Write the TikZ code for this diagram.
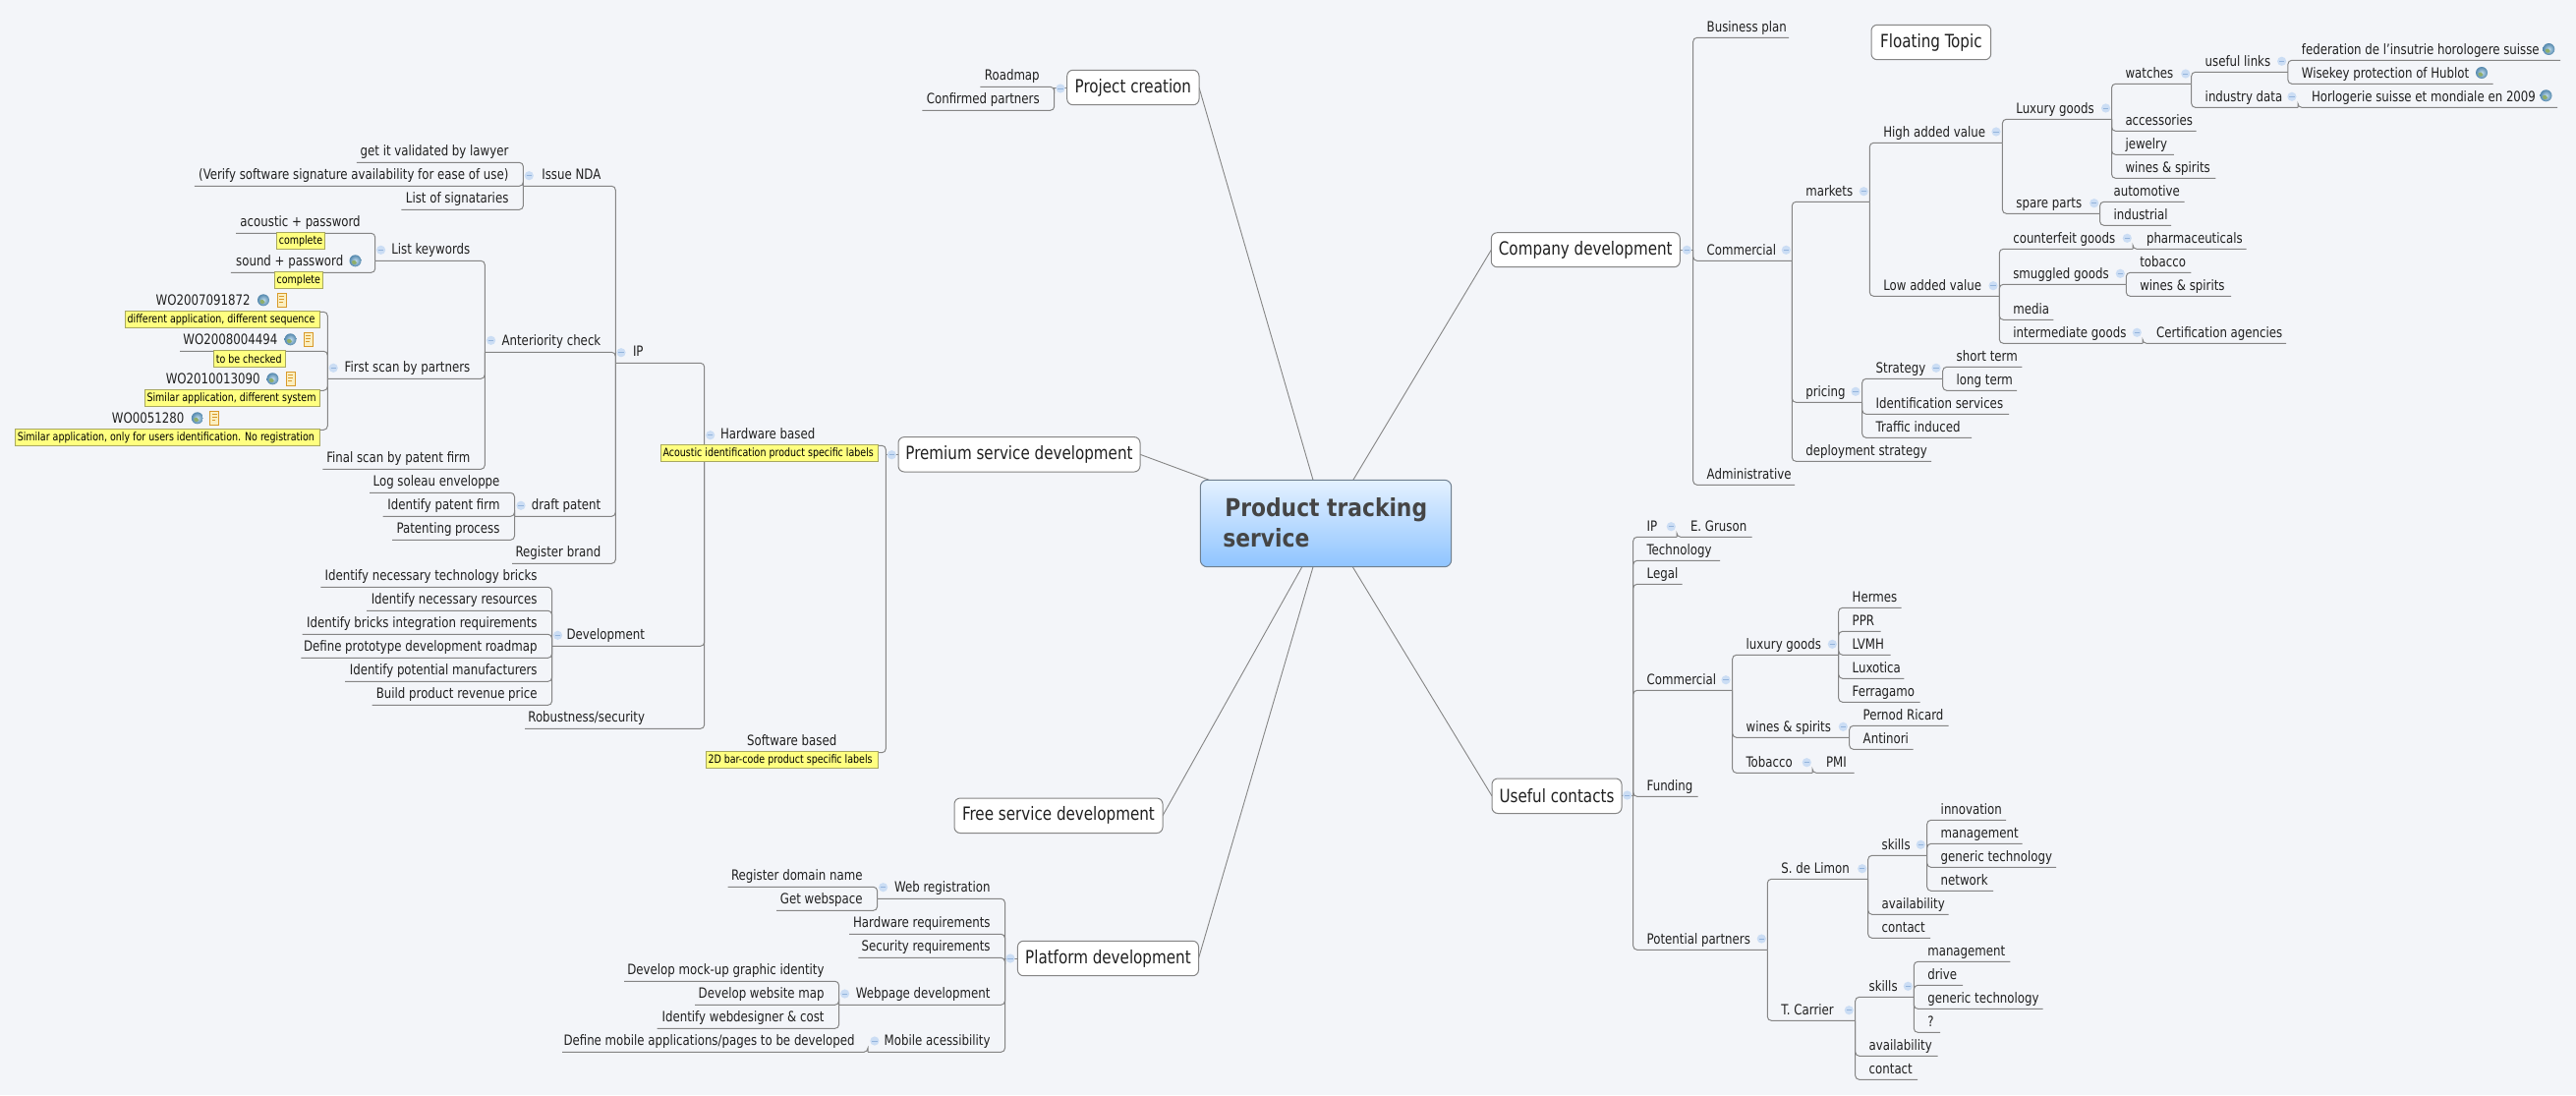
\documentclass[tikz,border=0pt]{standalone}
\usepackage{fontspec}
\setmainfont[FakeStretch=0.91,BoldFeatures={FakeStretch=0.97}]{DejaVu Sans Condensed}
\pgfdeclarelayer{bgl}\pgfdeclarelayer{conl}
\pgfsetlayers{bgl,conl,main}
\definecolor{bgc}{HTML}{F3F5F9}
\definecolor{linec}{HTML}{858585}
\definecolor{txtc}{HTML}{202020}
\definecolor{markc}{HTML}{CBDDF4}
\definecolor{minc}{HTML}{94B4DC}
\definecolor{yelc}{HTML}{FFFF80}
\definecolor{ctop}{HTML}{E4F1FF}
\definecolor{cbot}{HTML}{8FC4FF}
\definecolor{cedge}{HTML}{6F8090}
\definecolor{ctext}{HTML}{454545}
\definecolor{globei}{HTML}{C4DFF0}
\definecolor{globec}{HTML}{5488AD}
\definecolor{globeg}{HTML}{8FAE6A}
\definecolor{notef}{HTML}{FBEFC0}
\definecolor{notel}{HTML}{D99A2B}
\definecolor{yeledge}{HTML}{A8A860}
\tikzset{
 tp/.style={inner sep=0pt,outer sep=0pt,text height=13pt,text depth=7pt,text=txtc,font=\fontsize{14.4}{17}\selectfont},
 conn/.style={draw=linec,line width=1pt,rounded corners=4pt},
 spoke/.style={draw=linec,line width=0.9pt},
 mainbox/.style={draw=linec,line width=1pt,fill=white,rounded corners=6pt,inner sep=0pt,outer sep=0pt,text=txtc,font=\fontsize{18.5}{22}\selectfont},
 yel/.style={draw=yeledge,line width=0.8pt,fill=yelc,inner sep=0pt,outer sep=0pt,text=black,font=\fontsize{11.6}{14}\selectfont}
}
\newcommand{\RNx}[6]{\pgfmathsetmacro\mywidth{#4-#3}\node[tp,anchor=south west] (#2) at (#3,#5) {\makebox[\mywidth pt][l]{\hspace*{#1pt}\raisebox{-0.7pt}{#6}}};}
\newcommand{\LNx}[6]{\pgfmathsetmacro\mywidth{#4-#3}\node[tp,anchor=south west] (#2) at (#3,#5) {\makebox[\mywidth pt][r]{#6\hspace*{#1pt}}};}
\newcommand{\RN}[1][14]{\RNx{#1}}
\newcommand{\LN}[1][15]{\LNx{#1}}
\newcommand{\RC}[2]{\begin{pgfonlayer}{conl}\draw[conn] (#2.south east) -- (#2.south west) -- (#2.south west |- #1.south);\end{pgfonlayer}}
\newcommand{\LC}[2]{\begin{pgfonlayer}{conl}\draw[conn] (#2.south west) -- (#2.south east) -- (#2.south east |- #1.south);\end{pgfonlayer}}
\newcommand{\RM}[2]{\begin{pgfonlayer}{conl}\draw[conn] (#2.south east) -- (#2.south west) -- (#2.south west |- #1.east);\draw[conn] (#1.east) -- (#2.south west |- #1.east);\end{pgfonlayer}}
\newcommand{\LM}[2]{\begin{pgfonlayer}{conl}\draw[conn] (#2.south west) -- (#2.south east) -- (#2.south east |- #1.west);\draw[conn] (#1.west) -- (#2.south east |- #1.west);\end{pgfonlayer}}
\newcommand{\MN}[6]{\pgfmathsetmacro\cx{(#2+#4)/2}\pgfmathsetmacro\cy{(#3+#5)/2}\pgfmathsetmacro\mw{#4-#2}\pgfmathsetmacro\mh{#5-#3}\node[mainbox,minimum width=\mw pt,minimum height=\mh pt] (#1) at (\cx,\cy) {#6};}
\newcommand{\YN}[6]{\pgfmathsetmacro\cx{(#2+#4)/2}\pgfmathsetmacro\cy{(#3+#5)/2}\pgfmathsetmacro\mw{#4-#2}\pgfmathsetmacro\mh{#5-#3}\node[yel,minimum width=\mw pt,minimum height=\mh pt] (#1) at (\cx,\cy) {\makebox[\mw pt][l]{\hspace*{2.2pt}#6}};}
\newcommand{\Mk}[2]{\fill[markc] (#1,#2) circle (4.6pt);\draw[minc,line width=0.9pt] (#1-2.6,#2) -- (#1+2.6,#2);}
\newcommand{\Gl}[2]{\shade[inner color=globei,outer color=globec] (#1,#2) circle (6pt);\fill[globeg] (#1-3.5,#2+0.5) .. controls (#1-1,#2-1.5) and (#1+1,#2) .. (#1+1.5,#2+2) .. controls (#1,#2+5) and (#1-4,#2+4) .. cycle;}
\newcommand{\Nt}[2]{\draw[draw=notel,fill=notef,line width=0.9pt] (#1-4.5,#2-7) rectangle (#1+4.5,#2+7);\draw[notel,line width=0.8pt] (#1-2.5,#2-3.5) -- (#1+2.5,#2-3.5) (#1-2.5,#2-0.5) -- (#1+2.5,#2-0.5) (#1-2.5,#2+2.5) -- (#1+1,#2+2.5);}
\begin{document}
\begin{tikzpicture}[x=1pt,y=-1pt]
\begin{pgfonlayer}{bgl}
\fill[bgc] (0,0) rectangle (2621,1114);
\end{pgfonlayer}
\useasboundingbox (0,0) rectangle (2621,1114);
% centre
\node[rounded corners=7pt,draw=cedge,line width=1pt,top color=ctop,bottom color=cbot,inner sep=0pt,outer sep=0pt,minimum width=255.4pt,minimum height=88.4pt,align=left,text=ctext,font=\fontsize{25}{31}\selectfont\bfseries] (center) at (1349,532.5) {\hspace*{0.5pt}\raisebox{1.5pt}{Product tracking}\\[0pt]\hspace*{-1.5pt}\raisebox{1.5pt}{service}};
% main topics
\MN{pc}{1085.7}{71.3}{1220}{106.7}{Project creation}
\MN{cd}{1517.3}{236.7}{1709.3}{271.7}{Company development}
\MN{ps}{914}{444.6}{1160}{480}{Premium service development}
\MN{fs}{971}{812}{1183}{847.5}{Free service development}
\MN{pd}{1035.4}{957.3}{1219.5}{992.7}{Platform development}
\MN{uc}{1518}{792}{1650}{827.5}{Useful contacts}
\MN{ft}{1904}{25.3}{2025.7}{60.7}{Floating Topic}
\begin{pgfonlayer}{conl}
\draw[spoke] ([xshift=114.7pt]center.north west) -- (pc.east);
\draw[spoke] ([xshift=9pt]center.north west) -- (ps.east);
\draw[spoke] ([xshift=155.5pt]center.north west) -- (cd.west);
\draw[spoke] ([xshift=155pt]center.south west) -- (uc.west);
\draw[spoke] ([xshift=103.5pt]center.south west) -- (fs.east);
\draw[spoke] ([xshift=114.7pt]center.south west) -- (pd.east);
\end{pgfonlayer}
% Project creation
\LN{rm}{997.3}{1072.7}{88.3}{Roadmap}\LM{pc}{rm}
\LN{cp}{938.3}{1072.7}{112.3}{Confirmed partners}\LM{pc}{cp}
\Mk{1079}{90}
% Company development
\RN{bp}{1722.7}{1820}{38.3}{Business plan}\RM{cd}{bp}
\RN{com}{1722.7}{1823.3}{265.3}{Commercial}\RM{cd}{com}
\RN{adm}{1722.7}{1826}{493.3}{Administrative}\RM{cd}{adm}
\Mk{1716.3}{254.3}\Mk{1817.3}{254.3}
\RN{mk}{1823.3}{1902.3}{205.3}{markets}\RC{com}{mk}\Mk{1896.3}{194.7}
\RN{pr}{1823.3}{1894.7}{409.3}{pricing}\RC{com}{pr}\Mk{1888}{398.3}
\RN{ds}{1823.3}{1965}{469.3}{deployment strategy}\RC{com}{ds}
\RN{st}{1894.7}{1976.7}{385.3}{Strategy}\RC{pr}{st}\Mk{1970}{374.3}
\RN{ids}{1894.7}{2044}{421.3}{Identification services}\RC{pr}{ids}
\RN{ti}{1894.7}{2006}{445.3}{Traffic induced}\RC{pr}{ti}
\RN{shrt}{1976.7}{2057.3}{373.3}{short term}\RC{st}{shrt}
\RN{lng}{1976.7}{2052}{397.3}{long term}\RC{st}{lng}
\RN{hav}{1902.3}{2037.4}{145.3}{High added value}\RC{mk}{hav}\Mk{2031}{134}
\RN{lav}{1902.3}{2034.3}{301.3}{Low added value}\RC{mk}{lav}\Mk{2028}{290.7}
\RN{lux}{2037.4}{2148.5}{121.3}{Luxury goods}\RC{hav}{lux}\Mk{2142.6}{110}
\RN{spr}{2037.4}{2136.6}{217.3}{spare parts}\RC{hav}{spr}\Mk{2130.7}{206.7}
\RN{wat}{2148.5}{2229.7}{85.3}{watches}\RC{lux}{wat}\Mk{2223.8}{75}
\RN{acc}{2148.5}{2234.5}{133.3}{accessories}\RC{lux}{acc}
\RN{jew}{2148.5}{2211.9}{157.3}{jewelry}\RC{lux}{jew}
\RN{wns}{2148.5}{2254.3}{181.3}{wines \& spirits}\RC{lux}{wns}
\RN{ul}{2229.7}{2327.9}{73.3}{useful links}\RC{wat}{ul}\Mk{2321.6}{62.3}
\RN{idt}{2229.7}{2338}{109.3}{industry data}\RC{wat}{idt}\Mk{2331.9}{98.3}
\RN{hor}{2338}{2602}{109.3}{Horlogerie suisse et mondiale en 2009}\RC{idt}{hor}\Gl{2590.5}{97.3}
\RN{fed}{2327.9}{2605}{61.3}{federation de l'insutrie horologere suisse}\RC{ul}{fed}\Gl{2593.3}{50}
\RN{wis}{2327.9}{2536.6}{85.3}{Wisekey protection of Hublot}\RC{ul}{wis}\Gl{2525}{74}
\RN{aut}{2136.6}{2222.6}{205.3}{automotive}\RC{spr}{aut}
\RN{ind}{2136.6}{2209}{229.3}{industrial}\RC{spr}{ind}
\RN{cfg}{2034.3}{2170}{253.3}{counterfeit goods}\RC{lav}{cfg}\Mk{2164.3}{242.3}
\RN{pha}{2170}{2285.7}{253.3}{pharmaceuticals}\RC{cfg}{pha}
\RN{smg}{2034.3}{2163.3}{289.3}{smuggled goods}\RC{lav}{smg}\Mk{2157.3}{278.3}
\RN{med}{2034.3}{2089.3}{325.3}{media}\RC{lav}{med}
\RN{img}{2034.3}{2180}{349.3}{intermediate goods}\RC{lav}{img}\Mk{2174.3}{338.3}
\RN{cag}{2180}{2326}{349.3}{Certification agencies}\RC{img}{cag}
\RN{tob}{2163.3}{2229.3}{277.3}{tobacco}\RC{smg}{tob}
\RN{wn2}{2163.3}{2270}{301.3}{wines \& spirits}\RC{smg}{wn2}
% Useful contacts
\RN{uip}{1661.7}{1706}{546.3}{IP}\RM{uc}{uip}\Mk{1700.3}{535.7}
\RN{gru}{1706}{1782.7}{546.3}{E. Gruson}\RC{uip}{gru}
\RN{tec}{1661.7}{1750}{570.3}{Technology}\RM{uc}{tec}
\RN{leg}{1661.7}{1711.7}{594.3}{Legal}\RM{uc}{leg}
\RN{uco}{1661.7}{1762.7}{702.3}{Commercial}\RM{uc}{uco}\Mk{1756}{691.7}
\RN{fun}{1661.7}{1727.7}{810.3}{Funding}\RM{uc}{fun}
\RN{pot}{1661.7}{1798.3}{966.3}{Potential partners}\RM{uc}{pot}\Mk{1792.3}{955}
\Mk{1655.7}{809}
\RN{lxg}{1762.7}{1870.7}{666.3}{luxury goods}\RC{uco}{lxg}\Mk{1864.3}{655.3}
\RN{wsp}{1762.7}{1881.7}{750.3}{wines \& spirits}\RC{uco}{wsp}\Mk{1875.3}{739.3}
\RN{tbc}{1762.7}{1844}{786.3}{Tobacco}\RC{uco}{tbc}\Mk{1838.3}{775.7}
\RN{pmi}{1844}{1886.7}{786.3}{PMI}\RC{tbc}{pmi}
\RN{her}{1870.7}{1934.7}{618.3}{Hermes}\RC{lxg}{her}
\RN{ppr}{1870.7}{1913.7}{642.3}{PPR}\RC{lxg}{ppr}
\RN{lvm}{1870.7}{1923.7}{666.3}{LVMH}\RC{lxg}{lvm}
\RN{lxt}{1870.7}{1937.3}{690.3}{Luxotica}\RC{lxg}{lxt}
\RN{fer}{1870.7}{1953.7}{714.3}{Ferragamo}\RC{lxg}{fer}
\RN{per}{1881.7}{1982.7}{738.3}{Pernod Ricard}\RC{wsp}{per}
\RN{ant}{1881.7}{1946.7}{762.3}{Antinori}\RC{wsp}{ant}
\RN{sdl}{1798.3}{1900.7}{894.3}{S. de Limon}\RC{pot}{sdl}\Mk{1894.7}{883.7}
\RN{tca}{1798.3}{1887.7}{1038.3}{T. Carrier}\RC{pot}{tca}\Mk{1881.3}{1027.7}
\RN{sk1}{1900.7}{1960.7}{870.3}{skills}\RC{sdl}{sk1}\Mk{1954.3}{859.3}
\RN{av1}{1900.7}{1982.7}{930.3}{availability}\RC{sdl}{av1}
\RN{co1}{1900.7}{1964}{954.3}{contact}\RC{sdl}{co1}
\RN{inn}{1960.7}{2041}{834.3}{innovation}\RC{sk1}{inn}
\RN{mg1}{1960.7}{2057.7}{858.3}{management}\RC{sk1}{mg1}
\RN{gt1}{1960.7}{2092}{882.3}{generic technology}\RC{sk1}{gt1}
\RN{net}{1960.7}{2028}{906.3}{network}\RC{sk1}{net}
\RN{sk2}{1887.7}{1947.3}{1014.3}{skills}\RC{tca}{sk2}\Mk{1941.3}{1003.3}
\RN{av2}{1887.7}{1971.7}{1074.3}{availability}\RC{tca}{av2}
\RN{co2}{1887.7}{1951}{1098.3}{contact}\RC{tca}{co2}
\RN{mg2}{1947.3}{2045.3}{978.3}{management}\RC{sk2}{mg2}
\RN{drv}{1947.3}{1997}{1002.3}{drive}\RC{sk2}{drv}
\RN{gt2}{1947.3}{2078.7}{1026.3}{generic technology}\RC{sk2}{gt2}
\RN{qst}{1947.3}{1974}{1050.3}{?}\RC{sk2}{qst}
% Platform development
\LN{web}{892.6}{1022.5}{914.3}{Web registration}\LM{pd}{web}\Mk{898.6}{902.7}
\LN{hwr}{864.1}{1022.5}{950.3}{Hardware requirements}\LM{pd}{hwr}
\LN{ser}{873.3}{1022.5}{974.3}{Security requirements}\LM{pd}{ser}
\LN{wpd}{853.6}{1022.5}{1022.3}{Webpage development}\LM{pd}{wpd}\Mk{859.6}{1011}
\LN{mob}{883}{1022.5}{1070.3}{Mobile acessibility}\LM{pd}{mob}\Mk{889.9}{1059}
\Mk{1028}{975}
\LN[13.3]{dmo}{572}{883}{1070.3}{Define mobile applications/pages to be developed}\LC{mob}{dmo}
\LN{rdn}{740.6}{892.6}{902.3}{Register domain name}\LC{web}{rdn}
\LN{gws}{790.2}{892.6}{926.3}{Get webspace}\LC{web}{gws}
\LN{dmu}{635}{853.6}{998.3}{Develop mock-up graphic identity}\LC{wpd}{dmu}
\LN{dwm}{707}{853.6}{1022.3}{Develop website map}\LC{wpd}{dwm}
\LN{iwd}{668.6}{853.6}{1046.3}{Identify webdesigner \& cost}\LC{wpd}{iwd}
% Premium service development
\LN[72]{hw}{672.3}{901.3}{453.3}{Hardware based}\LM{ps}{hw}\Mk{722.7}{442.7}
\LN[50]{sw}{718.3}{901.3}{765.7}{Software based}\LM{ps}{sw}
\Mk{907.3}{462.7}
\LN{ip}{626.3}{716.7}{369.3}{}\LC{hw}{ip}
\node[tp,anchor=south west] (iptext) at (644,369.3) {IP};\Mk{632}{358.7}
\LN[60.7]{dev}{561.6}{716.7}{657.3}{Development}\LC{hw}{dev}\Mk{567.5}{646.3}
\LN[60.7]{rob}{534}{716.7}{741.3}{Robustness/security}\LC{hw}{rob}
\LN{nda}{532.4}{626.3}{189.3}{Issue NDA}\LC{ip}{nda}\Mk{538.3}{178.7}
\LN{ant2}{493.3}{626.3}{358.3}{Anteriority check}\LC{ip}{ant2}\Mk{499.6}{346.3}
\LN{dft}{523.5}{626.3}{525.3}{draft patent}\LC{ip}{dft}\Mk{530}{514.3}
\LN{reg}{521}{626.3}{573.3}{Register brand}\LC{ip}{reg}
\LN{gv}{362.8}{532.4}{165.3}{get it validated by lawyer}\LC{nda}{gv}
\LN{ver}{197.8}{532.4}{189.3}{(Verify software signature availability for ease of use)}\LC{nda}{ver}
\LN{los}{408.3}{532.4}{213.3}{List of signataries}\LC{nda}{los}
\LN{lk}{381.7}{493.3}{265.3}{List keywords}\LC{ant2}{lk}\Mk{387.6}{254.3}
\LN{fsp}{333.3}{493.3}{385.3}{First scan by partners}\LC{ant2}{fsp}\Mk{339.2}{374.3}
\LN{fsf}{328.3}{493.3}{477.3}{Final scan by patent firm}\LC{ant2}{fsf}
\LN{acp}{240}{381.7}{237.3}{acoustic + password}\LC{lk}{acp}
\LN[32.4]{sop}{234.8}{381.7}{277.3}{sound + password}\LC{lk}{sop}\Gl{361.5}{265.3}
\LN[78.7]{wo1}{150}{333.3}{317.3}{WO2007091872}\LC{fsp}{wo1}\Gl{268}{305.3}\Nt{286.6}{305.3}
\LN[50.9]{wo2}{183}{333.3}{357.3}{WO2008004494}\LC{fsp}{wo2}\Gl{295.5}{345.3}\Nt{313.6}{345.3}
\LN[68.6]{wo3}{160}{333.3}{397.3}{WO2010013090}\LC{fsp}{wo3}\Gl{277.4}{385.3}\Nt{295.9}{385.3}
\LN[146]{wo4}{105}{333.3}{437.3}{WO0051280}\LC{fsp}{wo4}\Gl{200.8}{425.3}\Nt{218.4}{425.3}
\LN{log}{376}{523.5}{501.3}{Log soleau enveloppe}\LC{dft}{log}
\LN{ipf}{389.7}{523.5}{525.3}{Identify patent firm}\LC{dft}{ipf}
\LN{ptp}{399}{523.5}{549.3}{Patenting process}\LC{dft}{ptp}
\LN{d1}{326.3}{561.6}{597.3}{Identify necessary technology bricks}\LC{dev}{d1}
\LN{d2}{373.2}{561.6}{621.3}{Identify necessary resources}\LC{dev}{d2}
\LN{d3}{307.5}{561.6}{645.3}{Identify bricks integration requirements}\LC{dev}{d3}
\LN{d4}{306.3}{561.6}{669.3}{Define prototype development roadmap}\LC{dev}{d4}
\LN{d5}{351}{561.6}{693.3}{Identify potential manufacturers}\LC{dev}{d5}
\LN{d6}{378.5}{561.6}{717.3}{Build product revenue price}\LC{dev}{d6}
% notes
\YN{y1}{672.3}{452.3}{893.7}{469.7}{Acoustic identification product specific labels}
\YN{y2}{718.3}{764.3}{893.8}{781.7}{2D bar-code product specific labels}
\YN{y3}{281.6}{236.7}{330.4}{253.7}{complete}
\YN{y4}{279.5}{276.7}{328.3}{293.7}{complete}
\YN{y5}{127.5}{316.7}{325.3}{333.3}{different application, different sequence}
\YN{y6}{217.6}{356.7}{290.4}{373.7}{to be checked}
\YN{y7}{147.3}{396.7}{325.3}{413.7}{Similar application, different system}
\YN{y8}{15.6}{436.7}{325.3}{453.7}{Similar application, only for users identification. No registration}
\end{tikzpicture}
\end{document}
